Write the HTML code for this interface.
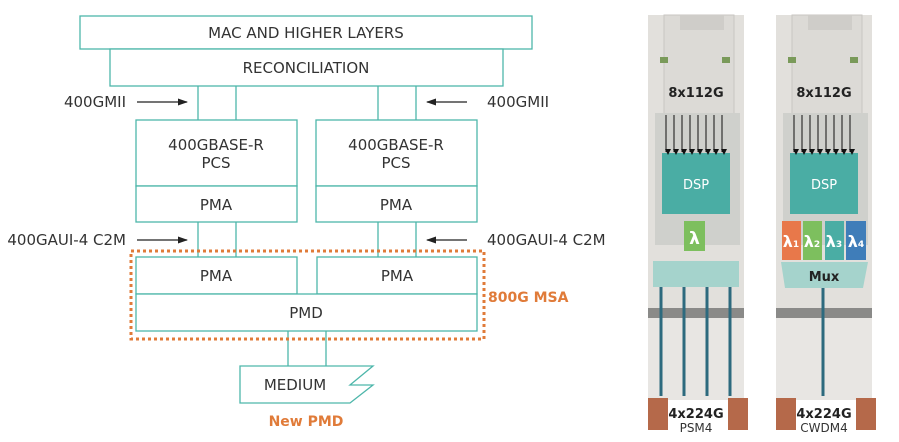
<!DOCTYPE html>
<html><head><meta charset="utf-8"><style>body{margin:0;background:#fff}svg{display:block}text{font-family:"DejaVu Sans","Liberation Sans",sans-serif}</style></head><body>
<svg width="899" height="442" viewBox="0 0 899 442" xmlns="http://www.w3.org/2000/svg">
<defs><marker id="ah" markerWidth="10" markerHeight="8" refX="9" refY="4" orient="auto" markerUnits="userSpaceOnUse"><path d="M0,0.5 L10,4 L0,7.5z" fill="#222"/></marker>
<marker id="sa" markerWidth="6" markerHeight="6" refX="3" refY="5" orient="auto" markerUnits="userSpaceOnUse"><path d="M0,0 L6,3 L0,6z" fill="#111"/></marker></defs>
<g fill="#fff" stroke="#4db6aa" stroke-width="1.3">
<rect x="80" y="16" width="452" height="33"/>
<rect x="110" y="49" width="393" height="37"/>
<path d="M198 86V120M236 86V120M378 86V120M416 86V120M198 222V257M236 222V257M378 222V257M416 222V257M288 331V366M326 331V366" fill="none"/>
<rect x="136" y="120" width="161" height="66"/><rect x="136" y="186" width="161" height="36"/>
<rect x="316" y="120" width="161" height="66"/><rect x="316" y="186" width="161" height="36"/>
<rect x="136" y="257" width="161" height="37"/><rect x="317" y="257" width="160" height="37"/>
<rect x="136" y="294" width="341" height="37"/>
<path d="M240 366H373L350 385H373L350 403H240Z"/>
</g>
<rect x="131" y="251" width="353" height="88" fill="none" stroke="#e07b39" stroke-width="3" stroke-dasharray="3,3"/>
<g font-size="15" fill="#333" text-anchor="middle">
<text x="306" y="38">MAC AND HIGHER LAYERS</text>
<text x="306" y="73">RECONCILIATION</text>
<text x="216" y="150">400GBASE-R</text><text x="216" y="168">PCS</text>
<text x="396" y="150">400GBASE-R</text><text x="396" y="168">PCS</text>
<text x="216" y="210">PMA</text><text x="396" y="210">PMA</text>
<text x="216" y="281">PMA</text><text x="397" y="281">PMA</text>
<text x="306" y="318">PMD</text>
<text x="295" y="390">MEDIUM</text>
</g>
<g font-size="15" fill="#333">
<text x="126" y="107" text-anchor="end">400GMII</text><text x="487" y="107">400GMII</text>
<text x="126" y="245" text-anchor="end">400GAUI-4 C2M</text><text x="487" y="245">400GAUI-4 C2M</text>
</g>
<g stroke="#222" stroke-width="1.3" marker-end="url(#ah)">
<line x1="137" y1="102" x2="187" y2="102"/><line x1="467" y1="102" x2="427" y2="102"/>
<line x1="137" y1="240" x2="187" y2="240"/><line x1="467" y1="240" x2="427" y2="240"/>
</g>
<text x="488" y="302" font-size="14" font-weight="bold" fill="#e07b39">800G MSA</text>
<text x="306" y="426" font-size="14" font-weight="bold" fill="#e07b39" text-anchor="middle">New PMD</text>

<g id="m1">
<rect x="648" y="15" width="96" height="385" fill="#e2e0dc"/>
<rect x="648" y="318" width="96" height="82" fill="#e8e6e3"/>
<rect x="664" y="15" width="70" height="100" fill="#dcdad6" stroke="#c8c6c2"/>
<rect x="680" y="15" width="44" height="15" fill="#cfcdc9"/>
<rect x="660" y="57" width="8" height="6" fill="#7a9a5a"/><rect x="722" y="57" width="8" height="6" fill="#7a9a5a"/>
<rect x="655" y="113" width="85" height="132" fill="#cfd0cc"/>
<rect x="648" y="308" width="96" height="10" fill="#8a8a88"/>
<rect x="648" y="398" width="20" height="32" fill="#b5694a"/><rect x="728" y="398" width="20" height="32" fill="#b5694a"/>
<rect x="668" y="400" width="60" height="30" fill="#fff"/>
<rect x="662" y="153" width="68" height="61" fill="#4aada4"/>
<g stroke="#111" stroke-width="1" marker-end="url(#sa)">
<line x1="666" y1="115" x2="666" y2="152"/><line x1="674" y1="115" x2="674" y2="152"/><line x1="682" y1="115" x2="682" y2="152"/><line x1="690" y1="115" x2="690" y2="152"/><line x1="698" y1="115" x2="698" y2="152"/><line x1="706" y1="115" x2="706" y2="152"/><line x1="714" y1="115" x2="714" y2="152"/><line x1="722" y1="115" x2="722" y2="152"/>
</g>
</g>
<use href="#m1" x="128"/>
<text x="696" y="97" font-size="13" font-weight="bold" fill="#222" text-anchor="middle">8x112G</text>
<text x="824" y="97" font-size="13" font-weight="bold" fill="#222" text-anchor="middle">8x112G</text>
<text x="696" y="189" font-size="13" fill="#fff" text-anchor="middle">DSP</text>
<text x="824" y="189" font-size="13" fill="#fff" text-anchor="middle">DSP</text>
<rect x="684" y="221" width="21" height="30" fill="#7dbf5e"/>
<text x="694.5" y="244" font-size="17" font-weight="bold" fill="#fff" text-anchor="middle">λ</text>
<rect x="653" y="261" width="86" height="26" fill="#a5d3cc"/>
<g stroke="#2d6a7e" stroke-width="3"><line x1="661" y1="287" x2="661" y2="396"/><line x1="684" y1="287" x2="684" y2="396"/><line x1="707" y1="287" x2="707" y2="396"/><line x1="730" y1="287" x2="730" y2="396"/><line x1="823" y1="288" x2="823" y2="396"/></g>
<rect x="782" y="221" width="19" height="39" fill="#e8784a"/><rect x="803" y="221" width="19" height="39" fill="#7dbf5e"/><rect x="825" y="221" width="19" height="39" fill="#4aada4"/><rect x="846" y="221" width="20" height="39" fill="#3f7db9"/>
<g font-size="16" font-weight="bold" fill="#fff" text-anchor="middle"><text x="791" y="247">λ<tspan font-size="9">1</tspan></text><text x="812" y="247">λ<tspan font-size="9">2</tspan></text><text x="834" y="247">λ<tspan font-size="9">3</tspan></text><text x="856" y="247">λ<tspan font-size="9">4</tspan></text></g>
<path d="M781 262H868L863 288H785Z" fill="#a5d3cc"/>
<text x="824" y="281" font-size="13" font-weight="bold" fill="#222" text-anchor="middle">Mux</text>
<text x="696" y="418" font-size="13" font-weight="bold" fill="#222" text-anchor="middle">4x224G</text>
<text x="696" y="432" font-size="12" fill="#333" text-anchor="middle">PSM4</text>
<text x="824" y="418" font-size="13" font-weight="bold" fill="#222" text-anchor="middle">4x224G</text>
<text x="824" y="432" font-size="12" fill="#333" text-anchor="middle">CWDM4</text>
</svg>
</body></html>
